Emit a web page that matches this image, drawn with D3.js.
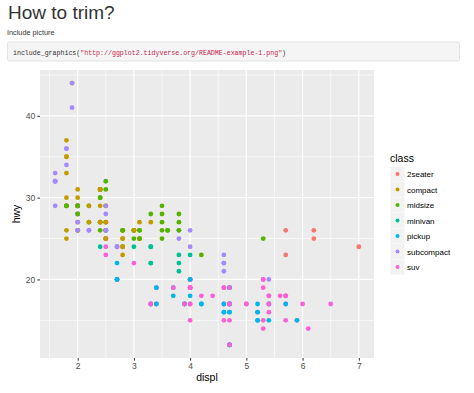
<!DOCTYPE html>
<meta charset="utf-8">
<style>
body { margin: 0; background: #fff; }
text { font-family: "Liberation Sans", Arial, sans-serif; }
.code { font-family: "Liberation Mono", "DejaVu Sans Mono", monospace; font-size: 6.6px; }
</style>

<svg width="474" height="393"></svg>

<script src="https://d3js.org/d3.v7.min.js"></script>
<script>
// mpg: displ vs hwy, coloured by class (rows kept in dataset order so overplotting matches)
var classes = ["2seater", "compact", "midsize", "minivan", "pickup", "subcompact", "suv"];
var classColors = ["#F8766D", "#C49A00", "#53B400", "#00C094", "#00B6EB", "#A58AFF", "#FB61D7"];

var xTicks = [2, 3, 4, 5, 6, 7];
var yTicks = [20, 30, 40];

var displ = [
  1.8,1.8,2.0,2.0,2.8,2.8,3.1,
  1.8,1.8,2.0,2.0,2.8,2.8,3.1,3.1,
  2.8,3.1,4.2,
  5.3,5.3,5.3,5.7,6.0,
  5.7,5.7,6.2,6.2,7.0,
  5.3,5.3,5.7,6.5,
  2.4,2.4,3.1,3.5,3.6,
  2.4,3.0,3.3,3.3,3.3,3.3,3.3,3.8,3.8,3.8,4.0,
  3.7,3.7,3.9,3.9,4.7,4.7,4.7,5.2,5.2,
  3.9,4.7,4.7,4.7,5.2,5.7,5.9,
  4.7,4.7,4.7,4.7,4.7,4.7,5.2,5.2,5.7,5.9,
  4.6,5.4,5.4,
  4.0,4.0,4.0,4.0,4.6,5.0,
  4.2,4.2,4.6,4.6,4.6,5.4,5.4,
  3.8,3.8,4.0,4.0,4.6,4.6,4.6,4.6,5.4,
  1.6,1.6,1.6,1.6,1.6,1.8,1.8,1.8,2.0,
  2.4,2.4,2.4,2.4,2.5,2.5,3.3,
  2.0,2.0,2.0,2.0,2.7,2.7,2.7,
  3.0,3.7,4.0,4.7,4.7,4.7,5.7,6.1,
  4.0,4.2,4.4,4.6,
  5.4,5.4,5.4,
  4.0,4.0,4.6,5.0,
  2.4,2.4,2.5,2.5,3.5,3.5,
  3.0,3.0,3.5,
  3.3,3.3,4.0,5.6,
  3.1,3.8,3.8,3.8,5.3,
  2.5,2.5,2.5,2.5,2.5,2.5,
  2.2,2.2,2.5,2.5,2.5,2.5,2.5,2.5,
  2.7,2.7,3.4,3.4,4.0,4.7,
  2.2,2.2,2.4,2.4,3.0,3.0,3.5,
  2.2,2.2,2.4,2.4,3.0,3.0,3.3,
  1.8,1.8,1.8,1.8,1.8,
  4.7,5.7,
  2.7,2.7,2.7,3.4,3.4,4.0,4.0,
  2.0,2.0,2.0,2.0,2.8,
  1.9,2.0,2.0,2.0,2.0,2.5,2.5,2.8,2.8,
  1.9,1.9,2.0,2.0,2.5,2.5,
  1.8,1.8,2.0,2.0,2.8,2.8,3.6
];

var hwy = [
  29,29,31,30,26,26,27,
  26,25,28,27,25,25,25,25,
  24,25,23,
  20,15,20,17,17,
  26,23,26,25,24,
  19,14,15,17,
  27,30,26,29,26,
  24,24,22,22,24,24,17,22,21,23,23,
  19,18,17,17,19,19,12,15,17,
  17,17,12,17,16,18,15,
  16,12,17,17,16,12,15,16,17,15,
  17,17,18,
  17,19,19,19,19,17,
  17,17,16,16,17,15,17,
  26,25,26,24,21,22,23,22,20,
  33,32,32,29,32,34,36,36,29,
  26,27,30,31,26,26,28,
  26,29,28,27,24,24,24,
  22,19,20,17,12,19,18,14,
  15,18,18,15,
  17,16,18,
  17,19,19,17,
  29,27,31,32,27,26,
  26,25,25,
  17,17,20,18,
  26,26,27,28,25,
  25,24,27,25,26,23,
  26,26,26,26,25,27,25,27,
  20,20,19,17,20,17,
  29,27,31,31,26,26,28,
  27,29,31,31,26,26,27,
  30,33,35,37,35,
  15,18,
  20,20,22,17,19,18,20,
  29,26,29,29,24,
  44,29,26,29,29,29,29,23,24,
  44,41,29,26,28,29,
  29,29,28,29,26,26,26
];

// index into classes
var classIdx = [
  1,1,1,1,1,1,1,
  1,1,1,1,1,1,1,1,
  2,2,2,
  6,6,6,6,6,
  0,0,0,0,0,
  6,6,6,6,
  2,2,2,2,2,
  3,3,3,3,3,3,3,3,3,3,3,
  4,4,4,4,4,4,4,4,4,
  6,6,6,6,6,6,6,
  4,4,4,4,4,4,4,4,4,4,
  6,6,6,
  6,6,6,6,6,6,
  4,4,4,4,4,4,4,
  5,5,5,5,5,5,5,5,5,
  5,5,5,5,5,5,5,5,5,
  2,2,2,2,2,2,2,
  5,5,5,5,5,5,5,
  6,6,6,6,6,6,6,6,
  6,6,6,6,
  6,6,6,
  6,6,6,6,
  1,1,2,2,2,2,
  2,2,2,
  6,6,6,6,
  2,2,2,2,2,
  6,6,6,6,6,6,
  5,5,5,5,1,1,1,1,
  6,6,6,6,6,6,
  2,2,2,2,2,2,2,
  1,1,1,1,1,1,1,
  1,1,1,1,1,
  6,6,
  4,4,4,4,4,4,4,
  1,1,1,1,1,
  1,1,1,1,1,1,1,1,1,
  5,5,5,5,5,5,
  2,2,2,2,2,2,2
];

var svg = d3.select("svg");

// ---- page header (the R markdown bits above the picture)
svg.append("text")
    .attr("x", 8).attr("y", 19)
    .style("font-size", "19px")
    .style("fill", "#333")
    .text("How to trim?");

svg.append("text")
    .attr("x", 7).attr("y", 35)
    .style("font-size", "7.3px")
    .style("fill", "#333")
    .text("Include picture");

svg.append("rect")
    .attr("x", 7.5).attr("y", 42)
    .attr("width", 452).attr("height", 19)
    .attr("rx", 2)
    .style("fill", "#f5f5f5")
    .style("stroke", "#e3e3e3");

var code = svg.append("text")
    .attr("class", "code")
    .attr("x", 13).attr("y", 54.5);
code.append("tspan").style("fill", "#333").text("include_graphics(");
code.append("tspan").style("fill", "#c7254e").text("\"http://ggplot2.tidyverse.org/README-example-1.png\"");
code.append("tspan").style("fill", "#333").text(")");

// ---- plot
var x = d3.scaleLinear().domain([1.33, 7.27]).range([40, 374]);
var y = d3.scaleLinear().domain([10.4, 45.6]).range([358, 70]);

svg.append("rect")
    .attr("x", x.range()[0]).attr("y", y.range()[1])
    .attr("width", x.range()[1] - x.range()[0])
    .attr("height", y.range()[0] - y.range()[1])
    .style("fill", "#EBEBEB");

var xMinor = [1.5, 2.5, 3.5, 4.5, 5.5, 6.5];
var yMinor = [15, 25, 35, 45];

var grid = svg.append("g").attr("class", "grid");
grid.selectAll(".xminor").data(xMinor).enter().append("line")
    .attr("x1", d => x(d)).attr("x2", d => x(d))
    .attr("y1", y.range()[0]).attr("y2", y.range()[1])
    .style("stroke", "#fff").style("stroke-width", 0.6);
grid.selectAll(".yminor").data(yMinor).enter().append("line")
    .attr("y1", d => y(d)).attr("y2", d => y(d))
    .attr("x1", x.range()[0]).attr("x2", x.range()[1])
    .style("stroke", "#fff").style("stroke-width", 0.6);
grid.selectAll(".xmajor").data(xTicks).enter().append("line")
    .attr("x1", d => x(d)).attr("x2", d => x(d))
    .attr("y1", y.range()[0]).attr("y2", y.range()[1])
    .style("stroke", "#fff").style("stroke-width", 1.2);
grid.selectAll(".ymajor").data(yTicks).enter().append("line")
    .attr("y1", d => y(d)).attr("y2", d => y(d))
    .attr("x1", x.range()[0]).attr("x2", x.range()[1])
    .style("stroke", "#fff").style("stroke-width", 1.2);

// axes
var xAxis = svg.append("g")
    .attr("transform", "translate(0," + y.range()[0] + ")")
    .call(d3.axisBottom(x).tickValues(xTicks).tickSize(2.7).tickPadding(2).tickFormat(d3.format("d")));
var yAxis = svg.append("g")
    .attr("transform", "translate(" + x.range()[0] + ",0)")
    .call(d3.axisLeft(y).tickValues(yTicks).tickSize(2.7).tickPadding(2).tickFormat(d3.format("d")));
[xAxis, yAxis].forEach(function(a) {
  a.select(".domain").remove();
  a.selectAll(".tick line").style("stroke", "#333").style("stroke-width", 1);
  a.selectAll(".tick text")
    .style("font-family", "'Liberation Sans', Arial, sans-serif")
    .style("font-size", "8.5px")
    .style("fill", "#4d4d4d");
});

svg.append("text")
    .attr("x", (x.range()[0] + x.range()[1]) / 2).attr("y", 381)
    .attr("text-anchor", "middle")
    .style("font-size", "10.5px")
    .style("fill", "#000")
    .text("displ");

svg.append("text")
    .attr("transform", "translate(20," + ((y.range()[0] + y.range()[1]) / 2) + ") rotate(-90)")
    .attr("text-anchor", "middle")
    .style("font-size", "10.5px")
    .style("fill", "#000")
    .text("hwy");

// points
var rows = displ.map(function(d, i) { return {displ: d, hwy: hwy[i], cls: classIdx[i]}; });

svg.append("g").attr("class", "points")
    .selectAll("circle")
    .data(rows)
  .enter().append("circle")
    .attr("cx", d => x(d.displ))
    .attr("cy", d => y(d.hwy))
    .attr("r", 2.4)
    .style("fill", d => classColors[d.cls]);

// legend
var legend = svg.append("g").attr("transform", "translate(390,0)");
legend.append("text")
    .attr("x", 0).attr("y", 162)
    .style("font-size", "10.5px")
    .style("fill", "#000")
    .text("class");

var keys = legend.selectAll(".key")
    .data(classes)
  .enter().append("g")
    .attr("transform", (d, i) => "translate(0," + (166.5 + i * 15.5) + ")");
keys.append("rect")
    .attr("x", 0.5).attr("y", 0)
    .attr("width", 14).attr("height", 15)
    .style("fill", "#F2F2F2");
keys.append("circle")
    .attr("cx", 7.5).attr("cy", 7.5).attr("r", 2)
    .style("fill", (d, i) => classColors[i]);
keys.append("text")
    .attr("x", 17).attr("y", 10.5)
    .style("font-size", "8px")
    .style("fill", "#000")
    .text(d => d);
</script>
